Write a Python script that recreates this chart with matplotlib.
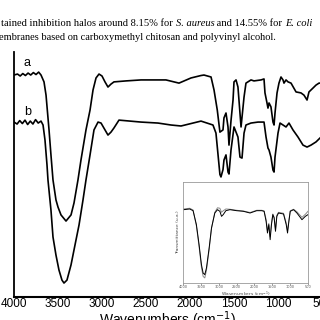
import numpy as np
import matplotlib
matplotlib.use("Agg")
import matplotlib.pyplot as plt

# main spectra (wavenumber, transmittance a.u.)
wn_a = [4000, 3960, 3930, 3900, 3870, 3840, 3810, 3780, 3750, 3720, 3693, 3659, 3636, 3602, 3580,
        3557, 3523, 3500, 3466, 3409, 3352, 3318, 3273, 3239, 3182, 3136, 3102, 3068, 3034, 3000,
        2966, 2932, 2898, 2864, 2727, 2557, 2364, 2273, 2125, 1989, 1875, 1841, 1761, 1727, 1690,
        1660, 1625, 1614, 1591, 1568, 1557, 1534, 1511, 1500, 1477, 1455, 1420, 1386, 1364, 1307,
        1273, 1193, 1159, 1148, 1125, 1114, 1102, 1080, 1057, 1045, 1034, 1011, 989, 966, 943,
        932, 909, 886, 852, 795, 739, 705, 670, 648, 602, 568, 534, 511]
tr_a = [90.6, 91.0, 90.2, 91.2, 90.4, 91.4, 90.6, 91.6, 90.8, 91.8, 90.6, 87.8, 82.4, 68.2, 58.0,
        47.8, 39.6, 36.7, 33.5, 31.0, 33.5, 38.4, 47.8, 55.9, 68.2, 76.3, 84.5, 89.4, 91.0, 90.2,
        87.8, 85.7, 86.9, 87.8, 88.2, 88.6, 88.6, 88.6, 87.3, 89.4, 90.4, 90.6, 89.8, 84.5, 76.3,
        67.3, 68.2, 73.1, 75.1, 69.4, 62.0, 72.0, 80.4, 87.8, 88.6, 85.7, 69.4, 81.6, 87.3, 88.6,
        88.2, 88.6, 89.0, 83.3, 79.2, 77.1, 79.2, 77.6, 71.4, 70.2, 75.1, 83.3, 87.3, 89.8, 88.6,
        87.3, 88.6, 87.8, 87.3, 83.7, 83.3, 82.4, 80.4, 83.7, 85.3, 86.5, 87.3, 87.3]

wn_b = [4000, 3965, 3935, 3905, 3875, 3845, 3815, 3785, 3755, 3725, 3693, 3670, 3648, 3625, 3614,
        3580, 3557, 3523, 3489, 3455, 3432, 3398, 3352, 3307, 3261, 3216, 3182, 3136, 3091, 3045,
        3011, 2966, 2932, 2898, 2864, 2807, 2557, 2364, 2216, 2102, 1875, 1739, 1705, 1660, 1648,
        1625, 1614, 1591, 1568, 1557, 1534, 1500, 1455, 1432, 1409, 1386, 1364, 1307, 1227, 1159,
        1136, 1114, 1102, 1080, 1057, 1045, 1034, 1000, 977, 943, 909, 875, 830, 773, 716, 670,
        625, 568, 511]
tr_b = [71.4, 70.6, 72.0, 70.8, 72.2, 70.4, 71.8, 70.6, 72.4, 71.0, 71.8, 70.2, 64.1, 53.9, 47.8,
        35.5, 24.5, 17.1, 11.0, 6.9, 5.7, 6.9, 13.1, 21.2, 29.4, 39.6, 47.8, 58.0, 68.2, 71.4,
        71.0, 68.2, 66.1, 67.3, 69.0, 72.2, 71.4, 71.0, 70.2, 69.8, 71.8, 70.2, 66.9, 50.0, 49.0,
        52.0, 55.9, 58.0, 51.0, 50.2, 60.0, 69.4, 65.3, 57.1, 56.7, 66.9, 70.2, 71.0, 71.4, 71.4,
        65.3, 60.8, 60.0, 57.1, 51.8, 51.0, 57.1, 66.9, 71.0, 70.2, 69.4, 71.0, 68.2, 65.3, 62.0,
        61.2, 62.0, 63.3, 65.3]

# inset spectra
wn_in = [3981, 3812, 3718, 3625, 3550, 3484, 3437, 3390, 3343, 3268, 3202, 3109, 3034, 2968,
         2921, 2874, 2799, 2686, 2499, 2311, 2123, 1936, 1795, 1729, 1673, 1635, 1598, 1560, 1523,
         1485, 1448, 1410, 1373, 1326, 1185, 1110, 1073, 1035, 997, 904, 810, 669, 575, 500]
tr_in1 = [72.6, 73.3, 71.6, 57.8, 38.0, 18.2, 9.9, 8.3, 14.9, 34.7, 54.5, 69.3, 72.6, 71.0,
          66.0, 67.7, 71.6, 72.6, 71.6, 71.0, 69.3, 71.6, 71.6, 71.0, 61.1, 49.5, 57.8, 42.9, 57.8,
          67.7, 64.4, 51.2, 66.0, 69.3, 68.3, 57.8, 49.5, 61.1, 71.0, 72.6, 69.3, 62.7, 66.0, 67.7]
tr_in2 = [73.3, 74.0, 72.3, 56.5, 36.0, 15.5, 6.6, 5.0, 12.5, 33.0, 54.0, 70.0, 74.5, 74.0,
          70.0, 71.5, 73.3, 73.0, 72.0, 71.3, 69.8, 72.0, 72.0, 71.3, 63.0, 52.0, 59.0, 46.0, 59.0,
          68.3, 65.0, 53.0, 67.0, 70.0, 69.0, 59.5, 52.0, 62.0, 71.5, 73.0, 70.5, 65.0, 68.0, 71.0]

ticks = [4000, 3500, 3000, 2500, 2000, 1500, 1000, 500]

fig = plt.figure(figsize=(3.2, 3.2), dpi=100)

# caption fragment above the chart (cropped in the source)
serif = "Liberation Serif"
parts1 = [("tained inhibition halos around 8.15% for ", "normal"), ("S. aureus", "italic"),
          (" and 14.55% for ", "normal"), ("E. coli", "italic")]
fig.canvas.draw()
r = fig.canvas.get_renderer()
x = 1
for s, st in parts1:
    t = fig.text(x / 320, 1 - 24 / 320, s, family=serif, style=st, fontsize=7.6, va="center")
    x = t.get_window_extent(r).x1
fig.text(-1 / 320, 1 - 37 / 320, "embranes based on carboxymethyl chitosan and polyvinyl alcohol.",
         family=serif, fontsize=7.5, va="center")

ax = fig.add_axes([14 / 320, 23 / 320, 308 / 320, 245 / 320])
ax.plot(wn_a, tr_a, color="black", lw=1.2)
ax.plot(wn_b, tr_b, color="black", lw=1.2)
ax.set_xlim(4000, 500)
ax.set_ylim(0, 100)
ax.set_xticks(ticks)
ax.set_xticklabels([str(t) for t in ticks], family="Liberation Sans", fontsize=8.5)
ax.tick_params(axis="x", length=0, pad=0.8)
ax.set_yticks([])
for s in ["top", "right"]:
    ax.spines[s].set_visible(False)
ax.spines["left"].set_linewidth(1.3)
ax.spines["bottom"].set_linewidth(1.5)
ax.set_xlabel("Wavenumbers (cm$^{-1}$)", family="Liberation Sans", fontsize=10, labelpad=-0.8)
ax.text(3850, 95.5, "a", family="Liberation Sans", fontsize=9, ha="center", va="center")
ax.text(3850, 75.5, "b", family="Liberation Sans", fontsize=9, ha="center", va="center")

# inset
ins = fig.add_axes([183 / 320, 37 / 320, 125 / 320, 101 / 320])
ins.plot(wn_in, tr_in2, color="#8a8a8a", lw=0.7)
ins.plot(wn_in, tr_in1, color="black", lw=0.7)
ins.set_xlim(4000, 500)
ins.set_ylim(0, 100)
ins.set_xticks(ticks)
ins.set_xticklabels([str(t) for t in ticks], fontsize=2.5, color="#555555")
ins.tick_params(axis="x", length=1.2, width=0.4, pad=0.5, colors="#555555")
ins.set_yticks([])
for s in ins.spines.values():
    s.set_color("#999999")
    s.set_linewidth(0.6)
ins.set_xlabel("Wavenumbers (cm$^{-1}$)", fontsize=3.2, color="#444444")
ins.xaxis.set_label_coords(0.5, -0.065)
ins.set_ylabel("Transmittance (u.a.)", fontsize=3.2, color="#444444", labelpad=2)

fig.savefig("out.png", dpi=100)
